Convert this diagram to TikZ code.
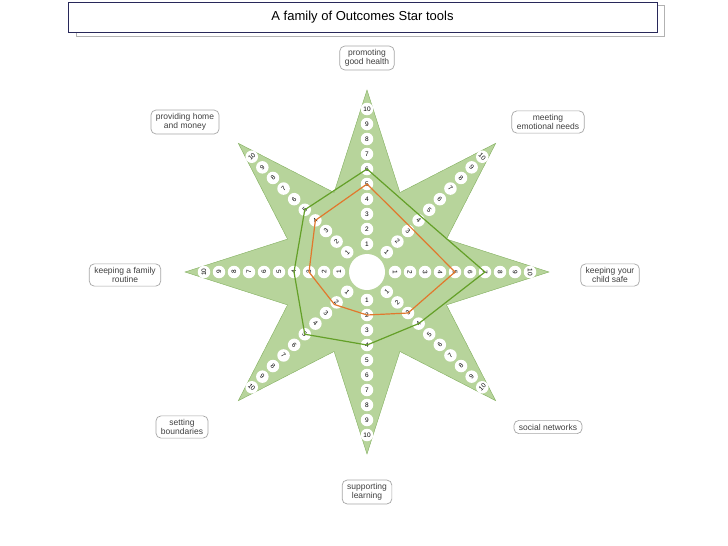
\documentclass[tikz,border=0pt]{standalone}
\usepackage{fontspec}
\setmainfont{Liberation Sans}
\definecolor{starfill}{RGB}{183,212,155}
\definecolor{starline}{RGB}{130,175,95}
\definecolor{greenline}{RGB}{100,160,40}
\definecolor{orangeline}{RGB}{225,120,45}
\definecolor{titleline}{RGB}{40,40,90}
\begin{document}
\begin{tikzpicture}[x=1pt,y=1pt,
every node/.style={inner sep=1pt},
numdot/.style={circle, fill=white, minimum size=12.5pt, inner sep=0pt, font=\fontsize{6.5}{7}\selectfont},
outcome/.style={draw=gray!70, fill=white, rounded corners=5pt, align=center,
    text=black!75, font=\fontsize{8.5}{9}\selectfont, inner xsep=5pt, inner ysep=3.5pt, line width=0.7pt}
]
\useasboundingbox (0,0) rectangle (728,-546);
% title
\draw[gray!60, line width=0.8pt] (76,-5) rectangle (664,-36);
\node[draw=titleline, fill=white, line width=0.8pt, minimum width=589pt, minimum height=30pt,
    font=\fontsize{13}{15}\selectfont] (title) at (362.5,-17) {A family of Outcomes Star tools};

\coordinate (c) at (367,-272);
\begin{scope}[shift={(c)}]
\fill[starfill, draw=starline, line width=0.4pt] (0:182)
  \foreach \a in {0,45,...,315}{ -- (\a+22.5:86) -- (\a+45:182)} -- cycle;
\fill[white] (0,0) circle (18);
\foreach \a in {0,45,...,315}{
  \pgfmathsetmacro{\rot}{\a<=180 ? \a-90 : \a+90}
  \foreach \k in {1,...,10}
    \node[numdot, rotate=\rot] (n-\a-\k) at (\a:13+15*\k) {\k};
}
% scores
\draw[greenline, line width=1.2pt] (0:13+15*7) -- (45:13+15*4.3) -- (90:13+15*6) -- (135:13+15*5)
  -- (180:13+15*4) -- (225:13+15*5) -- (270:13+15*4) -- (315:13+15*4) -- cycle;
\draw[orangeline, line width=1.2pt] (0:13+15*5) -- (45:13+15*3.3) -- (90:13+15*5) -- (135:13+15*4)
  -- (180:13+15*3) -- (225:13+15*2.2) -- (270:13+15*2) -- (315:13+15*3) -- cycle;
\end{scope}

\node[outcome] (health) at (367,-58) {promoting\\good health};
\node[outcome] (emotion) at (548,-122) {meeting\\emotional needs};
\node[outcome] (safe) at (610,-275) {keeping your\\child safe};
\node[outcome] (social) at (548,-427) {social networks};
\node[outcome] (learning) at (367,-492) {supporting\\learning};
\node[outcome] (bound) at (182,-427) {setting\\boundaries};
\node[outcome] (routine) at (125,-275) {keeping a family\\routine};
\node[outcome] (home) at (185,-122) {providing home\\and money};
\end{tikzpicture}
\end{document}
